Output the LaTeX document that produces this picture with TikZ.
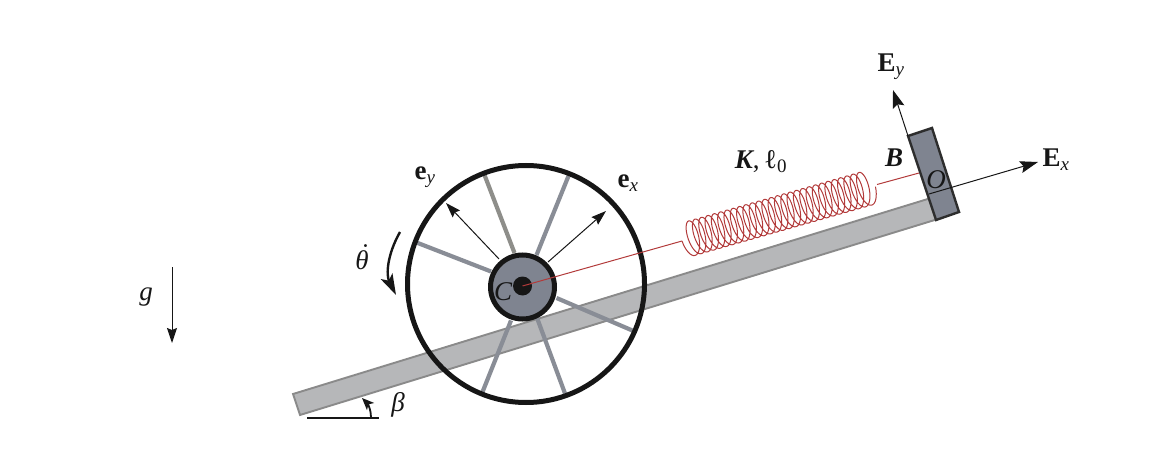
\documentclass[tikz,border=0pt]{standalone}
\usepackage{fontspec}
\setmainfont{Liberation Serif}
\usetikzlibrary{arrows.meta}
\definecolor{ink}{HTML}{161616}
\definecolor{beamfill}{HTML}{B6B7B9}
\definecolor{beamedge}{HTML}{8A8A8A}
\definecolor{steel}{HTML}{7F8490}
\definecolor{spokec}{HTML}{898D96}
\definecolor{spokeb}{HTML}{8E8E8A}
\definecolor{springc}{HTML}{B23A3A}
\tikzset{
  x=1pt,y=-1pt,
  lab/.style={inner sep=0pt,font=\fontsize{27}{30}\selectfont\itshape,text=ink},
  vec/.style={ink,line width=1pt,-{Stealth[length=15pt,width=10pt,inset=2pt]}},
  bigvec/.style={ink,line width=1pt,-{Stealth[length=18pt,width=12pt,inset=3pt]}},
  spokeline/.style={spokec,line width=4.2pt},
  redline/.style={springc,line width=1pt},
}
\newcommand{\subsc}[1]{\textsubscript{\fontsize{19}{20}\selectfont #1}}
\begin{document}
\begin{tikzpicture}
\useasboundingbox (0,0) rectangle (1150,462);
% beam
\draw[fill=beamfill,draw=beamedge,line width=1.9pt] (293,394) -- (931,198) -- (938,219) -- (300,415) -- cycle;
% spokes
\draw[spokeb,line width=4.2pt] (484.5,175) -- (514.5,253);
\draw[spokeline] (568.5,176) -- (536.5,255);
\draw[spokeline] (416.5,242.5) -- (491,271.5);
\draw[spokeline] (556.5,298) -- (633.5,331);
\draw[spokeline] (511,320.5) -- (482.5,392);
\draw[spokeline] (536.5,316.5) -- (565,393.5);
% wheel
\node[circle,draw=ink,line width=5pt,minimum size=237pt,inner sep=0pt] (rim) at (526,284) {};
\node[circle,draw=ink,fill=steel,line width=5pt,minimum size=64pt,inner sep=0pt] (hub) at (522.5,287) {};
\node[circle,fill=ink,minimum size=19pt,inner sep=0pt] (axle) at (522.5,286) {};
% block
\draw[fill=steel,draw=ink!90,line width=2.4pt,line join=miter] (908,136) -- (932,128) -- (959,212) -- (936,220) -- cycle;
% spring
\coordinate (springA) at (682,241);
\coordinate (anchorA) at (877,184.5);
\coordinate (anchorB) at (919,173);
\draw[redline] (axle.center) -- (springA);
\draw[redline] (anchorA) -- (anchorB);
\begin{scope}[shift={(682,241)},rotate=15.9]
\draw[springc,line width=1pt,samples=900,domain=0:1,variable=\t]
  plot ({7+187*\t-7*cos(360*28.5*\t)},{17.5*sin(360*28.5*\t)});
\end{scope}
% axes
\coordinate (Ex0) at (929,194);
\coordinate (ExT) at (1038,162);
\coordinate (Ey0) at (908,136);
\coordinate (EyT) at (893,90);
\draw[bigvec] (Ex0) -- (ExT);
\draw[bigvec] (Ey0) -- (EyT);
\coordinate (ey0) at (499,259);
\coordinate (eyT) at (446,203);
\coordinate (ex0) at (548,262);
\coordinate (exT) at (606,211);
\draw[vec] (ey0) -- (eyT);
\draw[vec] (ex0) -- (exT);
\coordinate (g0) at (172,267);
\coordinate (gT) at (172,343);
\draw[vec] (g0) -- (gT);
% theta-dot arrow
\coordinate (th0) at (400,232);
\coordinate (thT) at (396,295);
\draw[ink,line width=2.4pt,-{Stealth[length=21pt,width=13pt,inset=5pt]}] (th0) .. controls (387,255) and (386,275) .. (thT);
% beta
\coordinate (flatA) at (307,418);
\coordinate (flatB) at (379,418);
\draw[ink,line width=2.2pt] (flatA) -- (flatB);
\coordinate (beA) at (371,417);
\coordinate (beT) at (362,398);
\draw[ink,line width=1.8pt,-{Stealth[length=12pt,width=10pt,inset=3pt]}] (beA) .. controls (371,410) and (368,404) .. (beT);
% labels
\node[lab] (ley) at (425,177) {\textbf{\upshape e}\subsc{y}};
\node[lab] (lex) at (628,183) {\textbf{\upshape e}\subsc{x}};
\node[lab] (lC) at (503,292) {C};
\node[lab] (lth) at (362,257) {\accent"02D9 θ};
\node[lab] (lg) at (146,297) {g};
\node[lab] (lbe) at (398,405) {β};
\node[lab] (lK) at (761,162) {\textbf{K}\upshape,\,ℓ\subsc{\upshape 0}};
\node[lab] (lB) at (894,158) {\textbf{B}};
\node[lab] (lO) at (936,180) {O};
\node[lab] (lEy) at (891,67) {\textbf{\upshape E}\subsc{y}};
\node[lab] (lEx) at (1056,160) {\textbf{\upshape E}\subsc{x}};
\end{tikzpicture}
\end{document}
